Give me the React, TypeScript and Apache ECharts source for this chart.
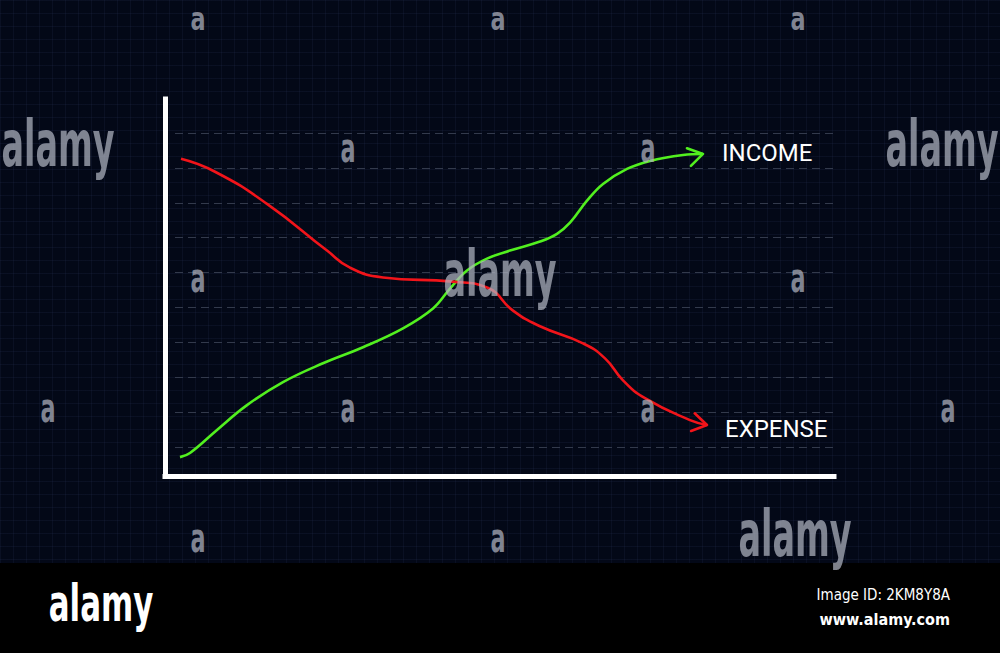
import React, { useEffect, useRef } from "react";
import * as echarts from "echarts";

// x: horizontal position units, y: value units (one unit per grid band)
const incomeX = [5, 15, 42, 72, 108, 148, 188, 228, 258, 275, 292, 312, 335, 365, 382, 395, 412, 428, 452, 475, 508, 528];
const incomeY = [-0.29, -0.17, 0.49, 1.2, 1.86, 2.4, 2.86, 3.4, 3.97, 4.54, 5.06, 5.4, 5.63, 5.89, 6.11, 6.43, 7.06, 7.54, 7.97, 8.2, 8.37, 8.4];

const expenseX = [6, 40, 92, 152, 175, 208, 278, 312, 338, 365, 408, 430, 448, 470, 515, 532];
const expenseY = [8.26, 7.89, 6.97, 5.63, 5.14, 4.86, 4.74, 4.57, 3.91, 3.46, 2.97, 2.54, 1.91, 1.4, 0.77, 0.63];

const seriesNames = ["INCOME", "EXPENSE"];
const gridValues = [0, 9]; // min / max of the dashed value grid
const xRange = [0, 661];

const INCOME_COLOR = "#52f01f";
const EXPENSE_COLOR = "#f2141a";

const zip = (xs: number[], ys: number[]) => xs.map((x, i) => [x, ys[i]]);

const arrowSeries = (xs: number[], ys: number[], color: string, heading: number) => ({
  type: "custom",
  xAxisIndex: 1,
  yAxisIndex: 1,
  clip: false,
  silent: true,
  z: 4,
  data: [[xs[xs.length - 1], ys[ys.length - 1]]],
  renderItem: (_params: any, api: any) => {
    const b = api.coord([api.value(0), api.value(1)]);
    const L = 17;
    const h = 0.56;
    const p1 = [b[0] - L * Math.cos(heading - h), b[1] - L * Math.sin(heading - h)];
    const p2 = [b[0] - L * Math.cos(heading + h), b[1] - L * Math.sin(heading + h)];
    return {
      type: "polyline",
      shape: { points: [p1, b, p2] },
      style: { stroke: color, lineWidth: 2.6, fill: null, lineCap: "round", lineJoin: "round" },
    };
  },
});

const wmFont = '"DejaVu Sans Condensed", "Liberation Sans", sans-serif';
const wmColor = "rgba(176,180,192,0.72)";
// [x, y, fontSize]
const smallA: [number, number, number][] = [
  [198, 19, 32], [498, 19, 32], [798, 19, 32],
  [348, 148, 40], [648, 148, 40],
  [198, 278, 40], [798, 278, 40],
  [48, 408, 40], [348, 408, 40], [648, 408, 40], [948, 408, 40],
  [198, 538, 40], [498, 538, 40],
];
const bigAlamy: [number, number][] = [
  [58, 143], [942, 143], [500, 273], [795, 533],
];

export default function App() {
  const ref = useRef<HTMLDivElement>(null);
  useEffect(() => {
    if (!ref.current) return;
    const chart = echarts.init(ref.current, undefined, { renderer: "svg" });
    const hidden = { show: false };
    const graphics: any[] = [
      {
        type: "rect",
        z: 1,
        shape: { x: 0, y: 563, width: 1000, height: 90 },
        style: { fill: "#000000" },
      },
      {
        type: "text",
        z: 10,
        x: 101,
        y: 603,
        scaleX: 0.66,
        style: {
          text: "alamy",
          font: "bold 52px " + wmFont,
          fill: "#ffffff",
          textAlign: "center",
          textVerticalAlign: "middle",
        },
      },
      {
        type: "text",
        z: 10,
        x: 950,
        y: 595,
        style: {
          text: "Image ID: 2KM8Y8A",
          font: '15px "DejaVu Sans Condensed", sans-serif',
          fill: "#ffffff",
          textAlign: "right",
          textVerticalAlign: "middle",
        },
      },
      {
        type: "text",
        z: 10,
        x: 950,
        y: 619,
        style: {
          text: "www.alamy.com",
          font: 'bold 16px "DejaVu Sans Condensed", sans-serif',
          fill: "#ffffff",
          textAlign: "right",
          textVerticalAlign: "middle",
        },
      },
      ...smallA.map(([x, y, size]) => ({
        type: "text",
        z: 100,
        silent: true,
        x,
        y,
        scaleX: 0.62 * (40 / size),
        style: {
          text: "a",
          font: "bold " + size + "px " + wmFont,
          lineHeight: 30,
          fill: wmColor,
          textAlign: "center",
          textVerticalAlign: "middle",
        },
      })),
      ...bigAlamy.map(([x, y]) => ({
        type: "text",
        z: 100,
        silent: true,
        x,
        y,
        scaleX: 0.58,
        style: {
          text: "alamy",
          font: "bold 64px " + wmFont,
          fill: wmColor,
          textAlign: "center",
          textVerticalAlign: "middle",
        },
      })),
    ];

    chart.setOption({
      animation: false,
      backgroundColor: "transparent",
      grid: [
        { left: 165, right: 166, top: 99, bottom: 177 },
        { left: 175, right: 164, top: 133, bottom: 206 },
      ],
      xAxis: [
        {
          type: "value",
          gridIndex: 0,
          min: 0,
          max: 1,
          axisLine: { show: true, onZero: false, lineStyle: { color: "#ffffff", width: 5, cap: "square" } },
          axisTick: hidden,
          axisLabel: hidden,
          splitLine: hidden,
        },
        {
          type: "value",
          gridIndex: 1,
          min: xRange[0],
          max: xRange[1],
          axisLine: hidden,
          axisTick: hidden,
          axisLabel: hidden,
          splitLine: hidden,
        },
      ],
      yAxis: [
        {
          type: "value",
          gridIndex: 0,
          min: 0,
          max: 1,
          axisLine: { show: true, onZero: false, lineStyle: { color: "#ffffff", width: 5, cap: "square" } },
          axisTick: hidden,
          axisLabel: hidden,
          splitLine: hidden,
        },
        {
          type: "value",
          gridIndex: 1,
          min: gridValues[0],
          max: gridValues[1],
          interval: 1,
          axisLine: hidden,
          axisTick: hidden,
          axisLabel: hidden,
          splitLine: { show: true, lineStyle: { color: "#333a4c", width: 1.2, type: [8, 5] } },
        },
      ],
      series: [
        {
          name: seriesNames[0],
          type: "line",
          xAxisIndex: 1,
          yAxisIndex: 1,
          data: zip(incomeX, incomeY),
          smooth: 0.4,
          showSymbol: false,
          clip: false,
          z: 3,
          lineStyle: { color: INCOME_COLOR, width: 2.6 },
          itemStyle: { color: INCOME_COLOR },
          endLabel: {
            show: true,
            formatter: seriesNames[0],
            color: "#ffffff",
            fontFamily: "Roboto, 'Noto Sans', sans-serif",
            fontSize: 24,
            distance: 19,
            offset: [0, -1],
          },
        },
        {
          name: seriesNames[1],
          type: "line",
          xAxisIndex: 1,
          yAxisIndex: 1,
          data: zip(expenseX, expenseY),
          smooth: 0.5,
          showSymbol: false,
          clip: false,
          z: 3,
          lineStyle: { color: EXPENSE_COLOR, width: 2.6 },
          itemStyle: { color: EXPENSE_COLOR },
          endLabel: {
            show: true,
            formatter: seriesNames[1],
            color: "#ffffff",
            fontFamily: "Roboto, 'Noto Sans', sans-serif",
            fontSize: 24,
            distance: 18,
            offset: [0, 4],
          },
        },
        arrowSeries(incomeX, incomeY, INCOME_COLOR, -0.22),
        arrowSeries(expenseX, expenseY, EXPENSE_COLOR, 0.2),
      ],
      graphic: graphics,
    });
    return () => chart.dispose();
  }, []);

  return (
    <div
      style={{
        position: "fixed",
        left: 0,
        top: 0,
        width: 1000,
        height: 653,
        backgroundColor: "#030817",
        backgroundImage:
          "linear-gradient(rgba(70,90,140,0.10) 1px, transparent 1px), linear-gradient(90deg, rgba(70,90,140,0.10) 1px, transparent 1px)",
        backgroundSize: "13px 13px",
      }}
    >
      <div ref={ref} style={{ width: 1000, height: 653 }} />
    </div>
  );
}
